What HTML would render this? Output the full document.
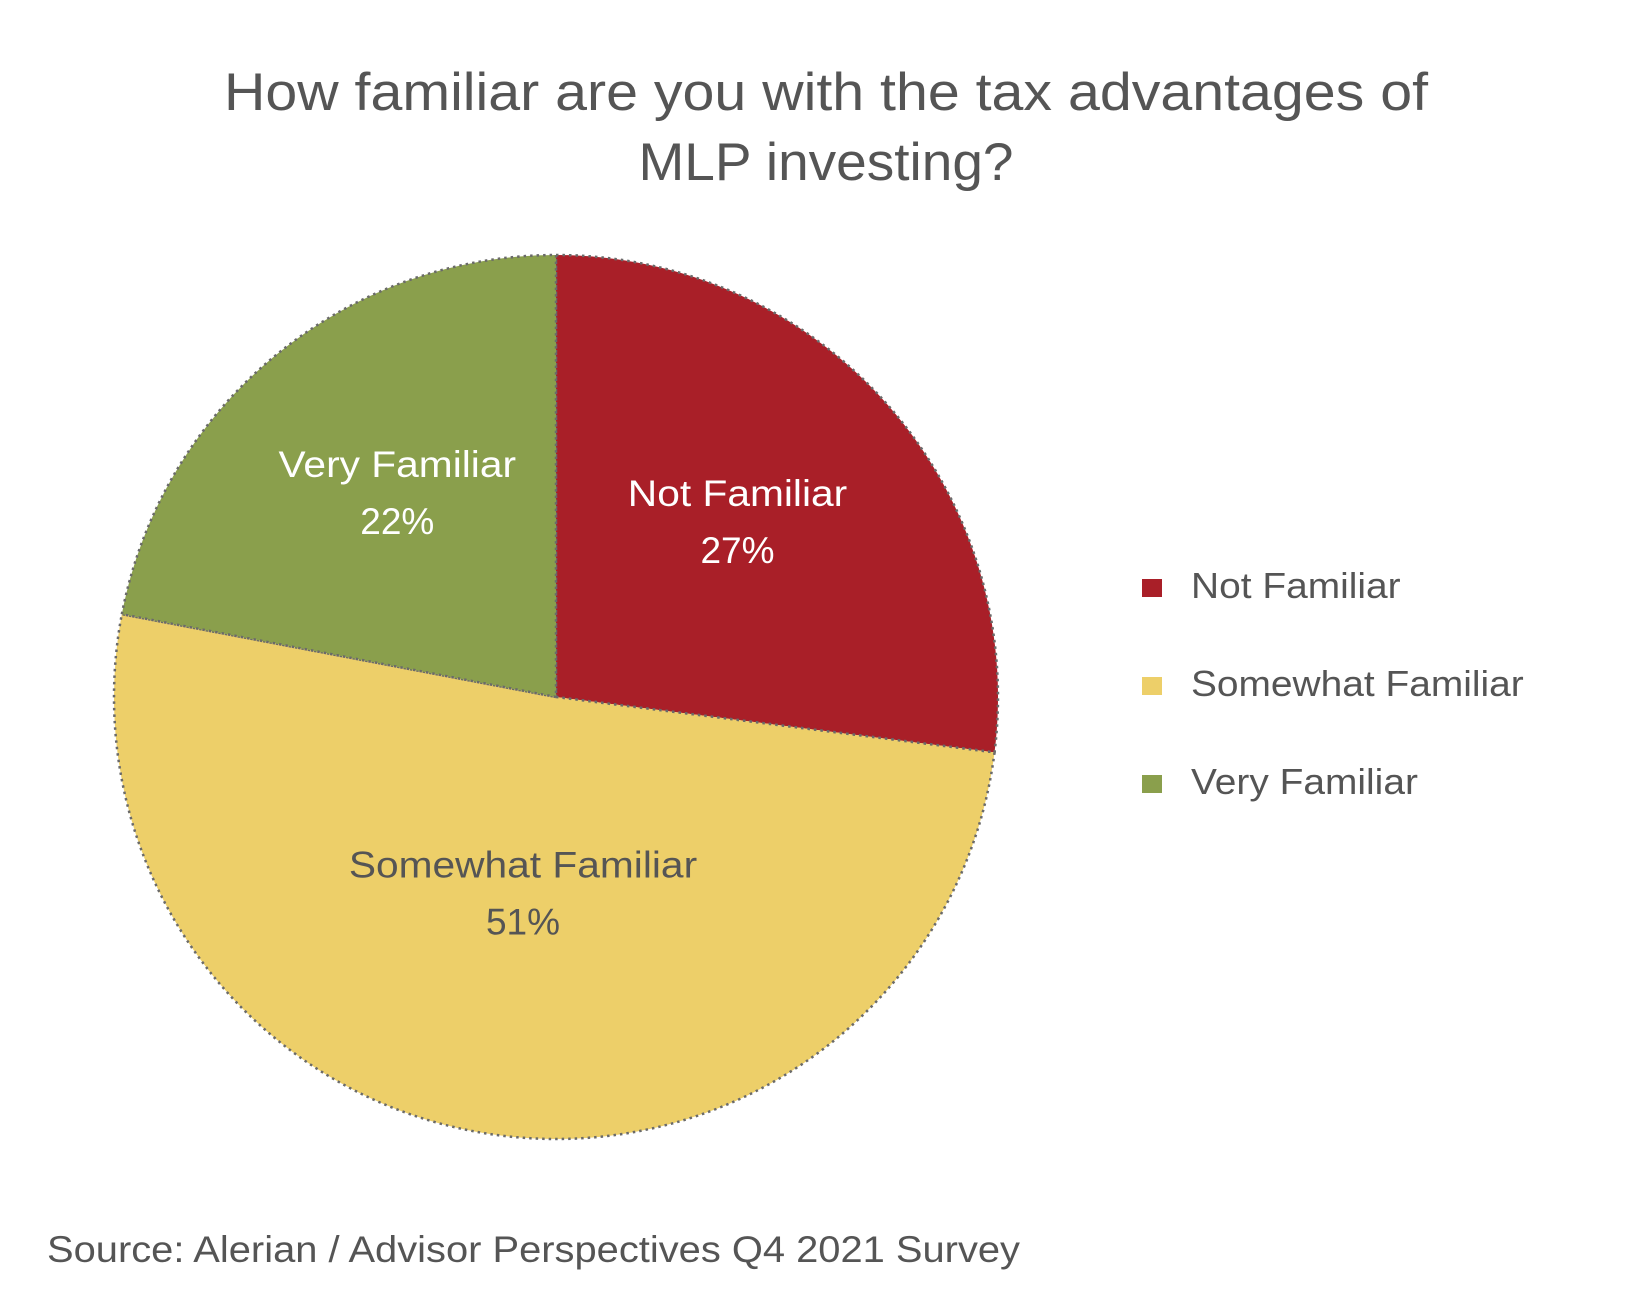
<!DOCTYPE html>
<html><head><meta charset="utf-8"><style>
html,body{margin:0;padding:0;background:#fff;}
svg{display:block;font-family:"Liberation Sans",sans-serif;}
</style></head><body>
<svg id="chart" width="1638" height="1315" viewBox="0 0 1638 1315">
<text x="826" y="110" text-anchor="middle" font-size="53" fill="#555" textLength="1204" lengthAdjust="spacingAndGlyphs">How familiar are you with the tax  advantages of</text>
<text x="826" y="180" text-anchor="middle" font-size="53" fill="#555" textLength="375" lengthAdjust="spacingAndGlyphs">MLP investing?</text>
<g id="slices"></g>
<g id="labels"></g>
<g id="legend"></g>
<text x="47" y="1262" font-size="37" fill="#555" textLength="973" lengthAdjust="spacingAndGlyphs">Source: Alerian / Advisor Perspectives Q4 2021 Survey</text>
</svg>
<script>
const categories = ["Not Familiar", "Somewhat Familiar", "Very Familiar"];
const values = [27, 51, 22];
const colors = ["#a91f28", "#edcf69", "#8a9f4c"];
const labelColors = ["#ffffff", "#555555", "#ffffff"];

const NS = "http://www.w3.org/2000/svg";
const cx = 556, cy = 697, R = 442;
const total = values.reduce((a, b) => a + b, 0);
function pt(frac, r) {
  const a = frac * 2 * Math.PI - Math.PI / 2;
  return [cx + r * Math.cos(a), cy + r * Math.sin(a)];
}
const slicesG = document.getElementById("slices");
const labelsG = document.getElementById("labels");
const legendG = document.getElementById("legend");
let acc = 0;
values.forEach((v, i) => {
  const f0 = acc / total, f1 = (acc + v) / total;
  acc += v;
  const [x0, y0] = pt(f0, R), [x1, y1] = pt(f1, R);
  const large = (f1 - f0) > 0.5 ? 1 : 0;
  const p = document.createElementNS(NS, "path");
  p.setAttribute("d", `M${cx},${cy} L${x0},${y0} A${R},${R} 0 ${large} 1 ${x1},${y1} Z`);
  p.setAttribute("fill", colors[i]);
  p.setAttribute("stroke", "#6a6a6a");
  p.setAttribute("stroke-width", "2.5");
  p.setAttribute("stroke-dasharray", "2.5 4");
  
  
  slicesG.appendChild(p);

  const mid = (f0 + f1) / 2;
  const [lx, ly0] = pt(mid, i === 1 ? 211 : (i === 2 ? 249 : 242));
  const ly = ly0 - (i === 0 ? 3 : 0);
  const t1 = document.createElementNS(NS, "text");
  t1.setAttribute("x", lx); t1.setAttribute("y", ly - 28);
  t1.setAttribute("text-anchor", "middle");
  t1.setAttribute("font-size", "37");
  t1.setAttribute("fill", labelColors[i]);
  t1.textContent = categories[i];
  
  
  labelsG.appendChild(t1);
  t1.setAttribute("textLength", (t1.getComputedTextLength() * 1.1).toFixed(1));
  t1.setAttribute("lengthAdjust", "spacingAndGlyphs");
  const t2 = document.createElementNS(NS, "text");
  t2.setAttribute("x", lx); t2.setAttribute("y", ly + 29);
  t2.setAttribute("text-anchor", "middle");
  t2.setAttribute("font-size", "37");
  t2.setAttribute("fill", labelColors[i]);
  t2.textContent = v + "%";
  
  
  labelsG.appendChild(t2);

  const ry = 579 + i * 98;
  const sq = document.createElementNS(NS, "rect");
  sq.setAttribute("x", 1142); sq.setAttribute("y", ry);
  sq.setAttribute("width", 20); sq.setAttribute("height", 18);
  sq.setAttribute("fill", colors[i]);
  
  
  legendG.appendChild(sq);
  const lt = document.createElementNS(NS, "text");
  lt.setAttribute("x", 1191); lt.setAttribute("y", ry + 19);
  lt.setAttribute("font-size", "36");
  lt.setAttribute("fill", "#555");
  lt.textContent = categories[i];
  
  
  legendG.appendChild(lt);
  lt.setAttribute("textLength", (lt.getComputedTextLength() * 1.08).toFixed(1));
  lt.setAttribute("lengthAdjust", "spacingAndGlyphs");
});
</script>
</body></html>
